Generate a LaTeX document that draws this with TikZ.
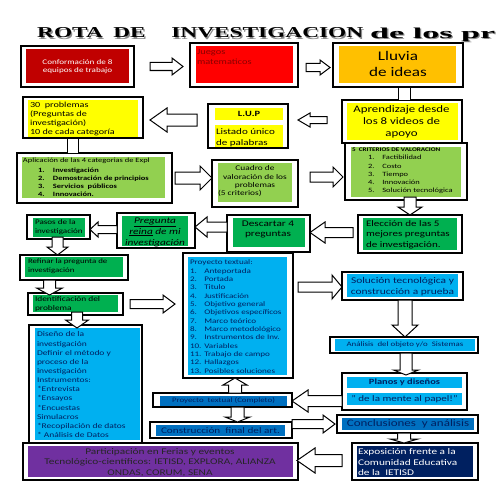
\documentclass[tikz,border=0pt]{standalone}
\usepackage{graphicx}
\usepackage{fontspec}
\setmainfont{Carlito}[FakeStretch=1.3]
\newfontfamily\titlefont{Liberation Serif}
\usetikzlibrary{calc,fit}
\definecolor{dred}{HTML}{C00000}
\definecolor{jtext}{HTML}{8A0000}
\definecolor{bred}{HTML}{FF0000}
\definecolor{gold}{HTML}{FFC000}
\definecolor{yel}{HTML}{FFFF00}
\definecolor{lgreen}{HTML}{92D050}
\definecolor{dgreen}{HTML}{00B050}
\definecolor{cyanb}{HTML}{00B0F0}
\definecolor{midb}{HTML}{0070C0}
\definecolor{navy}{HTML}{002060}
\definecolor{purp}{HTML}{7030A0}
\newcommand\fs[2]{\fontsize{#1}{#2}\selectfont}
\newcommand\nm[2][14.3pt]{\makebox[#1][l]{#2}}
\tikzset{
  pframe/.style={draw=black, line width=1.3pt, fill=white, inner sep=0pt, outer sep=0pt},
  fillbox/.style={draw=none, inner sep=0pt, outer sep=0pt},
  hollow/.style={draw=black, line width=1pt, fill=white, line join=miter},
  tx/.style={inner sep=0pt, outer sep=0pt, align=left},
}
\newcommand\panel[4]{%
  \node[pframe, fit={#2}] (#1) {};
  \node[fillbox, fill=#3, fit={#4}] (#1in) {};}
\newcommand\blk[5]{%
  \coordinate (bkA) at #1;
  \coordinate (bkB) at #2;
  \coordinate (bkH) at ($(bkB)!#5pt!(bkA)$);
  \draw[hollow] ($(bkA)!#3pt!90:(bkB)$) -- ($(bkH)!#3pt!-90:(bkA)$) -- ($(bkH)!#4pt!-90:(bkA)$) -- (bkB) -- ($(bkH)!#4pt!90:(bkA)$) -- ($(bkH)!#3pt!90:(bkA)$) -- ($(bkA)!#3pt!-90:(bkB)$) -- cycle;}
\newcommand\titA{\resizebox{326pt}{10pt}{\titlefont\bfseries ROTA\hspace{0.45em}DE\hspace{1.1em}INVESTIGACION}}
\newcommand\titB{\resizebox{125pt}{10.5pt}{\titlefont\bfseries de los pr}}
\newcommand\titall{\titA\hspace{7pt}\titB}
\begin{document}
\begin{tikzpicture}[x=1pt,y=-1pt]
\useasboundingbox (0,0) rectangle (495,495);
\clip (0,0) rectangle (495,495);
\fill[white] (0,0) rectangle (495,495);
% title (with its grey shadow in the same node)
\node[anchor=base west, inner sep=0pt] (tit) at (37,38) {\rlap{\hspace{1.3pt}\raisebox{-1.3pt}{\color{black!45}\titall}}\titall};
% panels
\panel{conf}{(21,46) (134,87)}{dred}{(26,49) (129,83)}
\panel{juegos}{(190,43) (298,87)}{bred}{(196,46) (293,83)}
\panel{lluvia}{(333,43) (463,87)}{gold}{(339,46) (456,83)}
\panel{aprend}{(342,100) (462,143)}{yel}{(347,103) (458,140)}
\panel{crit}{(345,143) (467,200)}{lgreen}{(351,147) (461,197)}
\node[pframe, fit={(208,104) (288,148)}] (lup) {};
\node[fillbox, fill=yel, fit={(215,108) (283,120)}] (lupA) {};
\node[fillbox, fill=yel, fit={(215,125) (283,147)}] (lupB) {};
\panel{prob}{(23,97) (143,138)}{yel}{(28,100) (138,137)}
\panel{apl}{(17,153) (172,203)}{lgreen}{(22,157) (165,198)}
\panel{cuad}{(212,160) (298,207)}{lgreen}{(218,163) (292,202)}
\panel{pasos}{(27,215) (90,239)}{dgreen}{(33,218) (85,237)}
\panel{preg}{(117,213) (195,248)}{dgreen}{(122,216) (188,246)}
\panel{desc}{(227,215) (310,252)}{dgreen}{(233,218) (305,247)}
\panel{elec}{(358,215) (462,253)}{dgreen}{(363,218) (457,250)}
\panel{ref}{(20,255) (128,280)}{dgreen}{(25,257) (123,277)}
\panel{ident}{(28,293) (123,315)}{dgreen}{(33,295) (118,312)}
\panel{proy}{(183,253) (293,378)}{cyanb}{(188,257) (287,375)}
\panel{sol}{(342,272) (463,300)}{cyanb}{(347,274) (458,297)}
\panel{dis}{(29,325) (142,443)}{cyanb}{(35,328) (140,440)}
\panel{anal}{(330,337) (478,353)}{cyanb}{(335,339) (475,351)}
\node[pframe, fit={(342,373) (467,410)}] (planos) {};
\node[fillbox, fill=cyanb, fit={(347,377) (462,388)}] (planosA) {};
\node[fillbox, fill=cyanb, fit={(347,393) (462,405)}] (planosB) {};
\panel{comp}{(153,393) (292,407)}{midb}{(160,396) (287,406)}
\panel{cons}{(150,422) (292,438)}{midb}{(156,425) (285,436)}
\panel{concl}{(337,415) (478,433)}{midb}{(342,418) (474,430)}
\panel{expo}{(352,443) (478,480)}{navy}{(357,446) (473,477)}
\panel{part}{(23,443) (298,480)}{purp}{(28,446) (293,477)}
% texts
\node[tx, align=center, text=white, font=\fs{7}{8.4}] (conft) at (77.5,66.5) {Conformación de 8\\equipos de trabajo};
\node[tx, anchor=west, text=jtext, font=\fs{8}{10}] (juegost) at (197,57) {Juegos\\matematicos};
\node[tx, align=center, font=\fs{13.2}{15.6}] (lluviat) at (398,64) {Lluvia\\de ideas};
\node[tx, align=center, font=\fs{9.9}{11.7}] (aprendt) at (401.5,121.7) {Aprendizaje desde\\los 8 videos de\\apoyo};
\node[tx, anchor=west, font=\fs{5.5}{7}\bfseries] (critt) at (352,150) {5\ \ CRITERIOS DE VALORACION};
\node[tx, anchor=west, font=\fs{6.5}{8.2}] (critl) at (368,174.7) {\nm{1.}Factibilidad\\\nm{2.}Costo\\\nm{3.}Tiempo\\\nm{4.}Innovación\\\nm{5.}Solución tecnológica};
\node[tx, font=\fs{8}{9}\bfseries] (lupt) at (249,114) {L.U.P};
\begin{scope}
\clip (lupB.south west) rectangle (lupB.north east);
\node[tx, anchor=west, font=\fs{8.5}{10.5}] (lupt2) at (216,137.7) {Listado único\\de palabras};
\end{scope}
\begin{scope}
\clip (probin.south west) rectangle (probin.north east);
\node[tx, anchor=west, font=\fs{7.8}{9}] (probt) at (30,118.5) {30\ \ problemas\\(Preguntas de\\investigación)\\10 de cada categoría};
\end{scope}
\node[tx, anchor=west, font=\fs{6.5}{8}] (aplt) at (23,161) {Aplicación de las 4 categorias de Expl};
\node[tx, anchor=west, font=\fs{6.5}{8.1}\bfseries] (apll) at (38,182) {\nm[15pt]{1.}Investigación\\\nm[15pt]{2.}Demostración de principios\\\nm[15pt]{3.}Servicios\ \ públicos\\\nm[15pt]{4.}Innovación.};
\node[tx, align=center, font=\fs{7.2}{8.3}] (cuadt) at (255,177.3) {Cuadro de\\valoración de los\\problemas};
\node[tx, anchor=west, font=\fs{7.2}{8.3}] (cuadt2) at (218,193) {(5 criterios)};
\node[tx, anchor=west, font=\fs{7}{9}] (pasost) at (35,227.5) {Pasos de la\\investigación};
\begin{scope}
\clip (pregin.south west) rectangle (pregin.north east);
\node[tx, align=center, font=\fs{8.7}{11}\itshape] (pregt) at (155,232) {\underline{Pregunta}\\\underline{reina} de mi\\investigación};
\end{scope}
\node[tx, align=center, font=\fs{8.7}{10.5}] (desct) at (268,229.5) {Descartar 4\\preguntas};
\node[tx, anchor=west, font=\fs{8.5}{10.5}] (elect) at (366,234.5) {Elección de las 5\\mejores preguntas\\de investigación.};
\node[tx, anchor=west, font=\fs{6.8}{8.7}] (reft) at (28,266.5) {Refinar la pregunta de\\investigación};
\begin{scope}
\clip (identin.south west) rectangle (identin.north east);
\node[tx, anchor=west, font=\fs{7.2}{8.5}] (identt) at (35,304.2) {Identificación del\\problema};
\end{scope}
\node[tx, anchor=west, font=\fs{7}{8.33}, text=navy] (proyt) at (190,316.7) {Proyecto textual:\\\nm{1.}Anteportada\\\nm{2.}Portada\\\nm{3.}Titulo\\\nm{4.}Justificación\\\nm{5.}Objetivo general\\\nm{6.}Objetivos específicos\\\nm{7.}Marco teórico\\\nm{8.}Marco metodológico\\\nm{9.}Instrumentos de Inv.\\\nm{10.}Variables\\\nm{11.}Trabajo de campo\\\nm{12.}Hallazgos\\\nm{13.}Posibles soluciones};
\node[tx, anchor=west, font=\fs{7.3}{9.15}, text=navy] (dist) at (37,384.7) {Diseño de la\\investigación\\Definir el método y\\proceso de la\\investigación\\Instrumentos:\\*Entrevista\\*Ensayos\\*Encuestas\\Simulacros\\*Recopilación de datos\\* Análisis de Datos};
\node[tx, align=center, font=\fs{8.8}{11.3}, text=navy] (solt) at (402.5,286.5) {Solución tecnológica y\\construcción a prueba};
\node[tx, font=\fs{6.8}{8}, text=navy] (analt) at (405,345) {Análisis\ \ del objeto y/o\ \ Sistemas};
\node[tx, font=\fs{8}{9}\bfseries, text=navy] (planost) at (404.5,382.5) {Planos y diseños};
\node[tx, font=\fs{8.5}{9}, text=navy] (planost2) at (404.5,399) {" de la mente al papel!"};
\node[tx, font=\fs{6.8}{8}, text=navy] (compt) at (223.5,401) {Proyecto\ \ textual (Completo)};
\node[tx, font=\fs{8.6}{10}, text=navy] (const) at (220.5,430.5) {Construcción\ \ final del art.};
\node[tx, font=\fs{10}{11}, text=navy] (conclt) at (408,424) {Conclusiones\ \ y análisis};
\begin{scope}
\clip (expoin.south west) rectangle (expoin.north east);
\node[tx, anchor=west, font=\fs{8.7}{10.5}, text=white] (expot) at (358,462.5) {Exposición frente a la\\Comunidad Educativa\\de la\ \ IETISD};
\end{scope}
\begin{scope}
\clip (partin.south west) rectangle (partin.north east);
\node[tx, align=center, font=\fs{8.7}{10.5}, text=black!85] (partt) at (160,462.5) {Participación en Ferias y eventos\\Tecnológico-científicos: IETISD, EXPLORA, ALIANZA\\ONDAS, CORUM, SENA};
\end{scope}
% connectors
\blk{($(conf.east |- 0,66.5)+(16,0)$)}{($(juegos.west |- 0,66.5)+(-7,0)$)}{4}{8.5}{11}
\blk{($(juegos.east |- 0,67.5)+(8,0)$)}{($(lluvia.west |- 0,67.5)+(-3,0)$)}{4}{7.5}{10}
\draw[hollow] (lluvia.south -| 398,0) rectangle (aprend.north -| 410,0);
\blk{($(aprend.west |- 0,120)+(-15,0)$)}{($(lup.east |- 0,120)+(10,0)$)}{3.5}{7}{12}
\blk{($(lup.west |- 0,120)+(-11,0)$)}{($(prob.east |- 0,120)+(7,0)$)}{6}{12}{17}
\draw[hollow] (prob.south -| 67,0) rectangle (apl.north -| 78,0);
\blk{($(apl.east |- 0,178)+(3,0)$)}{(cuad.west |- 0,178)}{6}{12}{12}
\blk{($(cuad.east |- 0,177)+(12,0)$)}{($(crit.west |- 0,177)+(-2,0)$)}{5}{10}{10}
\blk{($(crit.south -| 410,0)+(0,-3)$)}{(elec.north -| 410,0)}{6}{12}{8}
\blk{($(elec.west |- 0,232.5)+(-5,0)$)}{(desc.east |- 0,232.5)}{5}{10.5}{15}
\blk{(desc.west |- 0,227)}{(preg.east |- 0,227)}{5}{10}{12}
\blk{(preg.west |- 0,229.5)}{(pasos.east |- 0,229.5)}{4}{7.5}{8}
\blk{($(pasos.south -| 57.5,0)+(0,-2)$)}{(ref.north -| 57.5,0)}{5.5}{10.5}{8}
\blk{(ref.south -| 49.5,0)}{($(ident.north -| 49.5,0)+(0,2)$)}{6}{13}{7}
\blk{($(ident.east |- 0,304)+(7,0)$)}{($(proy.west |- 0,304)+(-8,0)$)}{4.5}{9}{12}
\blk{($(ident.south -| 77,0)+(0,-3)$)}{($(dis.north -| 77,0)+(0,3)$)}{5.5}{11.5}{8}
\blk{($(proy.east |- 0,287)+(5,0)$)}{(sol.west |- 0,287)}{5}{12}{10}
\blk{(sol.south -| 405,0)}{(anal.north -| 405,0)}{7}{13}{12}
\blk{(anal.south -| 406,0)}{($(planos.north -| 406,0)+(0,2)$)}{6}{12.5}{5}
\blk{(planos.west |- 0,401)}{(comp.east |- 0,401)}{5.5}{11}{16}
\blk{(comp.north -| 235,0)}{(proy.south -| 235,0)}{6.5}{12}{7}
\blk{(comp.south -| 237.5,0)}{(cons.north -| 237.5,0)}{6.5}{12.5}{5}
\blk{(cons.east |- 0,424)}{($(concl.west |- 0,424)+(-2,0)$)}{4.5}{9}{12}
\blk{(concl.south -| 404,0)}{(expo.north -| 404,0)}{6.5}{14}{4}
\blk{($(expo.west |- 0,460.5)+(-10,0)$)}{($(part.east |- 0,460.5)+(-1,0)$)}{6}{12.5}{18}
\end{tikzpicture}
\end{document}
